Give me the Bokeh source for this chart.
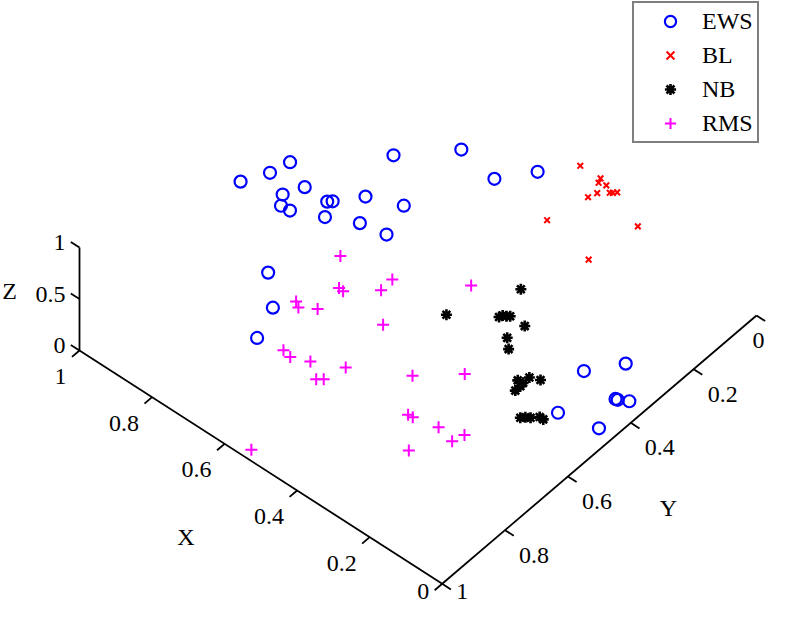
import numpy as np
from bokeh.plotting import figure
from bokeh.models import Range1d, Legend, LegendItem
from bokeh.core.properties import value
from bokeh.embed import file_html
from bokeh.resources import INLINE

# ---------------- data (3-D coordinates in the unit cube) ----------------
ews_x = [0.906, 0.876, 0.864, 0.795, 0.816, 0.798, 0.775, 0.733, 0.725, 0.708,
         0.682, 0.642, 0.579, 0.605, 0.714, 0.618, 0.512, 0.457, 0.752, 0.680,
         0.649, 0.150, 0.098, 0.114, 0.049, 0.044, 0.023, 0.021]
ews_y = [0.596, 0.537, 0.487, 0.520, 0.566, 0.592, 0.590, 0.520, 0.512, 0.556,
         0.457, 0.521, 0.509, 0.424, 0.331, 0.226, 0.243, 0.169, 0.686, 0.754,
         0.840, 0.376, 0.303, 0.500, 0.392, 0.391, 0.378, 0.477]
ews_z = [0.8, 0.8, 0.8, 0.8, 0.8, 0.8, 0.8, 0.8, 0.8, 0.8,
         0.8, 0.8, 0.8, 0.8, 0.8, 0.8, 0.8, 0.8, 0.5, 0.5,
         0.5, 0.1, 0.1, 0.1, 0.1, 0.1, 0.1, 0.1]

bl_x = [0.420, 0.365, 0.360, 0.343, 0.343, 0.350, 0.324, 0.313, 0.319, 0.372, 0.218, 0.234]
bl_y = [0.076, 0.075, 0.087, 0.082, 0.111, 0.132, 0.093, 0.082, 0.089, 0.237, 0.126, 0.264]
bl_z = [0.7, 0.7, 0.7, 0.7, 0.7, 0.7, 0.7, 0.7, 0.7, 0.7, 0.7, 0.7]

nb_x = [0.362, 0.432, 0.345, 0.342, 0.335, 0.329, 0.288, 0.294, 0.271, 0.199,
        0.186, 0.186, 0.164, 0.184, 0.184, 0.126, 0.119, 0.110, 0.097, 0.087]
nb_y = [0.332, 0.488, 0.421, 0.413, 0.409, 0.404, 0.405, 0.454, 0.476, 0.530,
        0.528, 0.508, 0.498, 0.555, 0.539, 0.606, 0.598, 0.592, 0.578, 0.578]
nb_z = [0.3, 0.3, 0.3, 0.3, 0.3, 0.3, 0.3, 0.3, 0.3, 0.3,
        0.3, 0.3, 0.3, 0.3, 0.3, 0.3, 0.3, 0.3, 0.3, 0.3]

rms_x = [0.688, 0.563, 0.561, 0.631, 0.619, 0.674, 0.659, 0.626, 0.494, 0.604,
         0.581, 0.541, 0.474, 0.499, 0.487, 0.354, 0.275, 0.289, 0.277, 0.218,
         0.171, 0.163, 0.222, 0.547, 0.428]
rms_y = [0.530, 0.509, 0.547, 0.600, 0.601, 0.687, 0.697, 0.674, 0.618, 0.808,
         0.813, 0.795, 0.760, 0.825, 0.815, 0.686, 0.611, 0.775, 0.774, 0.760,
         0.771, 0.741, 0.850, 0.976, 0.414]
rms_z = [0.4, 0.4, 0.4, 0.4, 0.4, 0.4, 0.4, 0.4, 0.4, 0.4,
         0.4, 0.4, 0.4, 0.4, 0.4, 0.4, 0.4, 0.4, 0.4, 0.4,
         0.4, 0.4, 0.4, 0.0, 0.4]

class_names = ["EWS", "BL", "NB", "RMS"]

x_ticks = [0, 0.2, 0.4, 0.6, 0.8, 1]
x_tick_labels = ["0", "0.2", "0.4", "0.6", "0.8", "1"]
y_ticks = [0, 0.2, 0.4, 0.6, 0.8, 1]
y_tick_labels = ["0", "0.2", "0.4", "0.6", "0.8", "1"]
z_ticks = [0, 0.5, 1]
z_tick_labels = ["0", "0.5", "1"]

# ---------------- view (oblique projection of the cube) ----------------
W, H = 769, 606
ORIGIN = (756.0, 315.0)
UX = (-362.7, -233.3)
UY = (-314.3, 268.3)
UZ = (0.0, -103.0)


def proj(x, y, z):
    x = np.asarray(x, dtype=float)
    y = np.asarray(y, dtype=float)
    z = np.asarray(z, dtype=float)
    sx = ORIGIN[0] + UX[0] * x + UY[0] * y + UZ[0] * z
    sy = ORIGIN[1] + UX[1] * x + UY[1] * y + UZ[1] * z
    return sx, sy


FONT = value("Liberation Serif")
FS = "24px"

p = figure(width=W, height=H, output_backend="svg", toolbar_location=None,
           x_range=Range1d(0, W), y_range=Range1d(H, 0),
           x_axis_type=None, y_axis_type=None, min_border=0,
           background_fill_color="white", border_fill_color="white")
p.grid.visible = False
p.outline_line_color = None

AXW = 1.8
TICK = 0.024
LABEL_MAX_Y = H - 15
LABEL_MAX_X = W - 17

# axes lines
ax0 = proj([0, 1], [1, 1], [0, 0])
p.line(ax0[0], ax0[1], line_color="black", line_width=AXW)
ay0 = proj([0, 0], [0, 1], [0, 0])
p.line(ay0[0], ay0[1], line_color="black", line_width=AXW)
az0 = proj([1, 1], [1, 1], [0, 1])
p.line(az0[0], az0[1], line_color="black", line_width=AXW)

# X ticks (pointing along +Y)
n = len(x_ticks)
xs0, ys0 = proj(x_ticks, [1] * n, [0] * n)
xs1, ys1 = proj(x_ticks, [1 + TICK] * n, [0] * n)
p.segment(xs0, ys0, xs1, ys1, line_color="black", line_width=AXW)
p.text(xs0 - 13, np.minimum(ys0 + 26, LABEL_MAX_Y), text=x_tick_labels,
       text_font=FONT, text_font_size=FS, text_align="right",
       text_baseline="middle", text_color="black")

# Y ticks (pointing along -X)
n = len(y_ticks)
xs0, ys0 = proj([0] * n, y_ticks, [0] * n)
xs1, ys1 = proj([-TICK] * n, y_ticks, [0] * n)
p.segment(xs0, ys0, xs1, ys1, line_color="black", line_width=AXW)
p.text(np.minimum(xs0 + 14, LABEL_MAX_X), np.minimum(ys0 + 25, LABEL_MAX_Y),
       text=y_tick_labels, text_font=FONT, text_font_size=FS, text_align="left",
       text_baseline="middle", text_color="black")

# Z ticks (pointing along +X)
n = len(z_ticks)
xs0, ys0 = proj([1] * n, [1] * n, z_ticks)
xs1, ys1 = proj([1 + TICK] * n, [1] * n, z_ticks)
p.segment(xs0, ys0, xs1, ys1, line_color="black", line_width=AXW)
p.text(xs0 - 14, ys0 - 5, text=z_tick_labels, text_font=FONT, text_font_size=FS,
       text_align="right", text_baseline="middle", text_color="black")

# axis titles
tx, ty = proj([0.5], [1], [0])
p.text(tx - 75, ty + 70, text=["X"], text_font=FONT, text_font_size=FS,
       text_align="center", text_baseline="middle", text_color="black")
tx, ty = proj([0], [0.5], [0])
p.text(tx + 69, ty + 58, text=["Y"], text_font=FONT, text_font_size=FS,
       text_align="center", text_baseline="middle", text_color="black")
tx, ty = proj([1], [1], [0.5])
p.text(tx - 70, ty - 8, text=["Z"], text_font=FONT, text_font_size=FS,
       text_align="center", text_baseline="middle", text_color="black")

# data series
ex, ey = proj(ews_x, ews_y, ews_z)
r_ews = p.scatter(ex, ey, marker="circle", size=12, line_color="#0000ff",
                  fill_color=None, line_width=2.2)
bx, by = proj(bl_x, bl_y, bl_z)
r_bl = p.scatter(bx, by, marker="x", size=8, line_color="#ff0000", line_width=2)
nx, ny = proj(nb_x, nb_y, nb_z)
r_nb = p.scatter(nx, ny, marker="asterisk", size=11, line_color="black", line_width=2.6)
rx, ry = proj(rms_x, rms_y, rms_z)
r_rms = p.scatter(rx, ry, marker="cross", size=12, line_color="#ff00ff", line_width=2)

legend = Legend(items=[LegendItem(label=class_names[0], renderers=[r_ews]),
                       LegendItem(label=class_names[1], renderers=[r_bl]),
                       LegendItem(label=class_names[2], renderers=[r_nb]),
                       LegendItem(label=class_names[3], renderers=[r_rms])],
                location=(632, H - 143), margin=0, padding=4, spacing=6,
                glyph_width=64, glyph_height=28, label_height=28, label_width=50,
                label_standoff=0, label_text_font="Liberation Serif",
                label_text_font_size="24px", label_text_baseline="middle",
                label_text_color="black",
                border_line_color="black", border_line_width=2,
                background_fill_color="white", background_fill_alpha=1.0)
p.add_layout(legend)

open("out.html", "w").write(file_html(p, INLINE))
